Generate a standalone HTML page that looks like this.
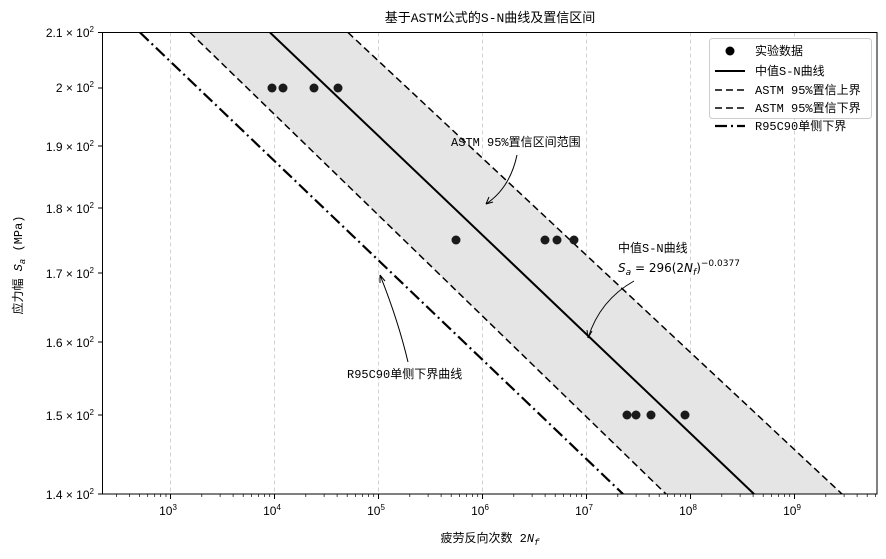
<!DOCTYPE html>
<html><head><meta charset="utf-8"><style>
body{margin:0;background:#fff;}
svg text{font-family:"Liberation Mono","Noto Sans CJK SC",monospace;font-size:12px;fill:#000;}
</style></head><body>
<svg width="886" height="554" viewBox="0 0 886 554" xmlns="http://www.w3.org/2000/svg">
<defs><clipPath id="c"><rect x="102.5" y="32.5" width="774.5" height="461.5"/></clipPath></defs>
<text x="490" y="22" text-anchor="middle" style="font-size:13px">基于ASTM公式的S-N曲线及置信区间</text>
<g stroke="#c8c8c8" stroke-dasharray="4,3" stroke-width="0.8">
<line x1="170.5" y1="32.5" x2="170.5" y2="494"/><line x1="274.5" y1="32.5" x2="274.5" y2="494"/>
<line x1="378.5" y1="32.5" x2="378.5" y2="494"/><line x1="482.5" y1="32.5" x2="482.5" y2="494"/>
<line x1="586.5" y1="32.5" x2="586.5" y2="494"/><line x1="690.5" y1="32.5" x2="690.5" y2="494"/>
<line x1="794.5" y1="32.5" x2="794.5" y2="494"/>
</g>
<g clip-path="url(#c)">
<polygon points="190,32.5 348,32.5 842,494 666,494" fill="#e5e5e5"/>
<line x1="190" y1="32.5" x2="666" y2="494" stroke="#000" stroke-width="1.5" stroke-dasharray="7,4"/>
<line x1="348" y1="32.5" x2="842" y2="494" stroke="#000" stroke-width="1.5" stroke-dasharray="7,4"/>
<line x1="270" y1="32.5" x2="754" y2="494" stroke="#000" stroke-width="2"/>
<line x1="140" y1="32.5" x2="623" y2="494" stroke="#000" stroke-width="2.2" stroke-dasharray="12,4,2,4"/>
<g fill="#1a1a1a">
<circle cx="272" cy="88" r="4.5"/><circle cx="283" cy="88" r="4.5"/><circle cx="314" cy="88" r="4.5"/><circle cx="338" cy="88" r="4.5"/>
<circle cx="456" cy="240" r="4.5"/><circle cx="545" cy="240" r="4.5"/><circle cx="557" cy="240" r="4.5"/><circle cx="574" cy="240" r="4.5"/>
<circle cx="627" cy="415" r="4.5"/><circle cx="636" cy="415" r="4.5"/><circle cx="651" cy="415" r="4.5"/><circle cx="685" cy="415" r="4.5"/>
</g>
</g>
<rect x="102.5" y="32.5" width="774.5" height="461.5" fill="none" stroke="#000" stroke-width="1"/>
<text x="451" y="146">ASTM 95%置信区间范围</text>
<path d="M517,155 Q510,188 486,204" fill="none" stroke="#000" stroke-width="1"/>
<path d="M486,204 l3,-7 M486,204 l7,-2" stroke="#000" fill="none"/>
<text x="618" y="252">中值S-N曲线</text>
<text x="618" y="272" style="font-family:'DejaVu Sans',sans-serif;font-size:12px"><tspan font-style="italic">S</tspan><tspan font-size="9" dy="3" font-style="italic">a</tspan><tspan dy="-3"> = 296(2</tspan><tspan font-style="italic">N</tspan><tspan font-size="9" dy="3" font-style="italic">f</tspan><tspan dy="-3">)</tspan><tspan font-size="9" dy="-6">−0.0377</tspan></text>
<path d="M634,281 Q600,300 588,338" fill="none" stroke="#000" stroke-width="1"/>
<path d="M588,338 l-1,-8 M588,338 l4,-7" stroke="#000" fill="none"/>
<text x="347" y="378">R95C90单侧下界曲线</text>
<path d="M408,362 Q398,320 380,275" fill="none" stroke="#000" stroke-width="1"/>
<path d="M380,275 l0,8 M380,275 l5,6" stroke="#000" fill="none"/>
<rect x="709.5" y="38.5" width="162" height="80" rx="3" fill="#fff" stroke="#ccc"/>
<circle cx="730" cy="51" r="4.5" fill="#000"/>
<text x="755" y="55">实验数据</text>
<line x1="715" y1="71" x2="745" y2="71" stroke="#000" stroke-width="2"/>
<text x="755" y="75">中值S-N曲线</text>
<line x1="715" y1="90" x2="745" y2="90" stroke="#000" stroke-width="1.5" stroke-dasharray="7,4"/>
<text x="755" y="94">ASTM 95%置信上界</text>
<line x1="715" y1="108" x2="745" y2="108" stroke="#000" stroke-width="1.5" stroke-dasharray="7,4"/>
<text x="755" y="112">ASTM 95%置信下界</text>
<line x1="715" y1="126" x2="745" y2="126" stroke="#000" stroke-width="2.2" stroke-dasharray="12,4,2,4"/>
<text x="755" y="130">R95C90单侧下界</text>
<g stroke="#000"><line x1="98" y1="32.5" x2="102.5" y2="32.5"/><line x1="98" y1="88" x2="102.5" y2="88"/><line x1="98" y1="146" x2="102.5" y2="146"/><line x1="98" y1="208" x2="102.5" y2="208"/><line x1="98" y1="273" x2="102.5" y2="273"/><line x1="98" y1="342" x2="102.5" y2="342"/><line x1="98" y1="415" x2="102.5" y2="415"/><line x1="98" y1="494" x2="102.5" y2="494"/></g>
<g text-anchor="end" style="font-family:'Liberation Sans',sans-serif">
<text x="94" y="37" style="font-family:'Liberation Sans',sans-serif">2.1 × 10<tspan font-size="8" dy="-5">2</tspan></text>
<text x="94" y="92" style="font-family:'Liberation Sans',sans-serif">2 × 10<tspan font-size="8" dy="-5">2</tspan></text>
<text x="94" y="151" style="font-family:'Liberation Sans',sans-serif">1.9 × 10<tspan font-size="8" dy="-5">2</tspan></text>
<text x="94" y="213" style="font-family:'Liberation Sans',sans-serif">1.8 × 10<tspan font-size="8" dy="-5">2</tspan></text>
<text x="94" y="278" style="font-family:'Liberation Sans',sans-serif">1.7 × 10<tspan font-size="8" dy="-5">2</tspan></text>
<text x="94" y="347" style="font-family:'Liberation Sans',sans-serif">1.6 × 10<tspan font-size="8" dy="-5">2</tspan></text>
<text x="94" y="420" style="font-family:'Liberation Sans',sans-serif">1.5 × 10<tspan font-size="8" dy="-5">2</tspan></text>
<text x="94" y="499" style="font-family:'Liberation Sans',sans-serif">1.4 × 10<tspan font-size="8" dy="-5">2</tspan></text>
</g>
<text x="0" y="0" transform="translate(22,265) rotate(-90)" text-anchor="middle">应力幅 <tspan font-style="italic">S</tspan><tspan font-size="9" dy="3" font-style="italic">a</tspan><tspan dy="-3"> (MPa)</tspan></text>
<g stroke="#000">
<line x1="170.5" y1="494" x2="170.5" y2="499"/><line x1="274.5" y1="494" x2="274.5" y2="499"/><line x1="378.5" y1="494" x2="378.5" y2="499"/><line x1="482.5" y1="494" x2="482.5" y2="499"/><line x1="586.5" y1="494" x2="586.5" y2="499"/><line x1="690.5" y1="494" x2="690.5" y2="499"/><line x1="794.5" y1="494" x2="794.5" y2="499"/>
</g>
<path stroke="#000" stroke-width="0.7" d="
M116.4,494v3M129.4,494v3M139.5,494v3M147.7,494v3M154.7,494v3M160.7,494v3M166.0,494v3
M201.8,494v3M220.1,494v3M233.1,494v3M243.2,494v3M251.4,494v3M258.4,494v3M264.4,494v3M269.7,494v3
M305.8,494v3M324.1,494v3M337.1,494v3M347.2,494v3M355.4,494v3M362.4,494v3M368.4,494v3M373.7,494v3
M409.8,494v3M428.1,494v3M441.1,494v3M451.2,494v3M459.4,494v3M466.4,494v3M472.4,494v3M477.7,494v3
M513.8,494v3M532.1,494v3M545.1,494v3M555.2,494v3M563.4,494v3M570.4,494v3M576.4,494v3M581.7,494v3
M617.8,494v3M636.1,494v3M649.1,494v3M659.2,494v3M667.4,494v3M674.4,494v3M680.4,494v3M685.7,494v3
M721.8,494v3M740.1,494v3M753.1,494v3M763.2,494v3M771.4,494v3M778.4,494v3M784.4,494v3M789.7,494v3
M825.8,494v3M844.1,494v3M857.1,494v3M867.2,494v3M875.4,494v3"/>
<g text-anchor="middle">
<text x="168" y="515" style="font-family:'Liberation Sans',sans-serif">10<tspan font-size="8" dy="-5">3</tspan></text>
<text x="272" y="515" style="font-family:'Liberation Sans',sans-serif">10<tspan font-size="8" dy="-5">4</tspan></text>
<text x="376" y="515" style="font-family:'Liberation Sans',sans-serif">10<tspan font-size="8" dy="-5">5</tspan></text>
<text x="480" y="515" style="font-family:'Liberation Sans',sans-serif">10<tspan font-size="8" dy="-5">6</tspan></text>
<text x="584" y="515" style="font-family:'Liberation Sans',sans-serif">10<tspan font-size="8" dy="-5">7</tspan></text>
<text x="688" y="515" style="font-family:'Liberation Sans',sans-serif">10<tspan font-size="8" dy="-5">8</tspan></text>
<text x="792" y="515" style="font-family:'Liberation Sans',sans-serif">10<tspan font-size="8" dy="-5">9</tspan></text>
</g>
<text x="490" y="542" text-anchor="middle">疲劳反向次数 2<tspan font-style="italic">N</tspan><tspan font-size="9" dy="3" font-style="italic">f</tspan></text>
</svg>
</body></html>
